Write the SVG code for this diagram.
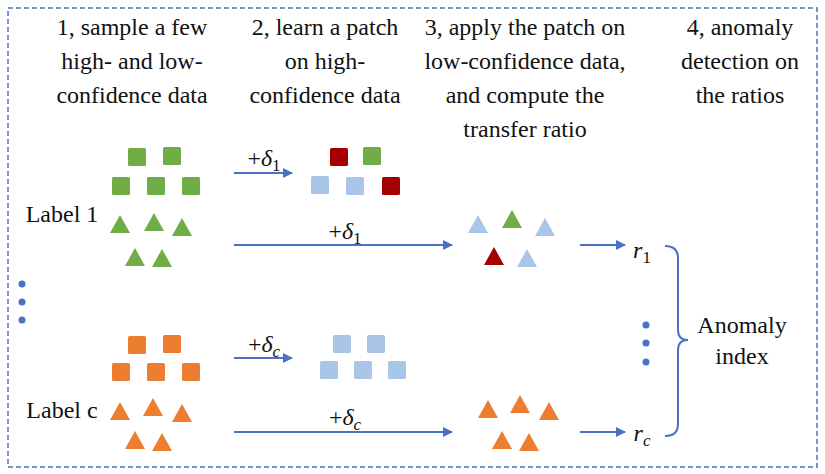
<svg xmlns="http://www.w3.org/2000/svg" width="825" height="474" viewBox="0 0 825 474" font-family="'Liberation Serif', 'Times New Roman', 'DejaVu Serif', serif">
<defs>
<style>
text{font-family:'Liberation Serif','Times New Roman','DejaVu Serif',serif;fill:#111;}
.h{font-size:24px;text-anchor:middle;}
.m{font-size:24px;font-style:italic;text-anchor:middle;}
.c{stroke:#4a72c4;stroke-width:2;fill:none;}
.g{fill:#70ad47}.o{fill:#ed7d31}.r{fill:#a50000}.b{fill:#a9c6e8}
.d{fill:#4a72c4}
</style>
<marker id="a" viewBox="0 0 10 10" refX="9" refY="5" markerWidth="5" markerHeight="5" orient="auto"><path d="M0,0L10,5L0,10z" fill="#4a72c4"/></marker>
<symbol id="sq" viewBox="0 0 18 18" overflow="visible"><rect x="0" y="0" width="18" height="18" rx="1.5"/></symbol>
<symbol id="tr" viewBox="0 0 20 18" overflow="visible"><path d="M10,0L20,18L0,18z"/></symbol>
</defs>
<rect x="8" y="8" width="809" height="459" fill="none" stroke="#4a72c4" stroke-width="1.5" stroke-dasharray="5,3"/>
<g id="headers">
<text class="h" x="132" y="35">1, sample a few</text><text class="h" x="132" y="69">high- and low-</text><text class="h" x="132" y="103">confidence data</text>
<text class="h" x="325" y="35">2, learn a patch</text><text class="h" x="325" y="69">on high-</text><text class="h" x="325" y="103">confidence data</text>
<text class="h" x="525" y="35">3, apply the patch on</text><text class="h" x="525" y="69">low-confidence data,</text><text class="h" x="525" y="103">and compute the</text><text class="h" x="525" y="137">transfer ratio</text>
<text class="h" x="740" y="35">4, anomaly</text><text class="h" x="740" y="69">detection on</text><text class="h" x="740" y="103">the ratios</text>
</g>
<g id="label1"><text x="62" y="222" style="font-size:24px;text-anchor:middle">Label 1</text></g>
<g id="labelc"><text x="62" y="418" style="font-size:24px;text-anchor:middle">Label c</text></g>
<g id="dotsLeft" class="d"><circle cx="22" cy="284" r="3.5"/><circle cx="22" cy="302" r="3.5"/><circle cx="22" cy="320" r="3.5"/></g>
<g id="high1">
<use href="#sq" class="g" x="128" y="148" width="18" height="18"/><use href="#sq" class="g" x="163" y="147" width="18" height="18"/>
<use href="#sq" class="g" x="112" y="177" width="18" height="18"/><use href="#sq" class="g" x="147" y="177" width="18" height="18"/><use href="#sq" class="g" x="182" y="177" width="18" height="18"/>
</g>
<g id="low1">
<use href="#tr" class="g" x="110" y="215" width="20" height="18"/><use href="#tr" class="g" x="144" y="213" width="20" height="18"/><use href="#tr" class="g" x="172" y="218" width="20" height="18"/>
<use href="#tr" class="g" x="125" y="248" width="20" height="18"/><use href="#tr" class="g" x="152" y="249" width="20" height="18"/>
</g>
<g id="patched1">
<use href="#sq" class="r" x="330" y="148" width="18" height="18"/><use href="#sq" class="g" x="363" y="147" width="18" height="18"/>
<use href="#sq" class="b" x="311" y="176" width="18" height="18"/><use href="#sq" class="b" x="346" y="177" width="18" height="18"/><use href="#sq" class="r" x="382" y="177" width="18" height="18"/>
</g>
<g id="transfer1">
<use href="#tr" class="b" x="468" y="215" width="20" height="18"/><use href="#tr" class="g" x="502" y="210" width="20" height="18"/><use href="#tr" class="b" x="535" y="218" width="20" height="18"/>
<use href="#tr" class="r" x="484" y="247" width="20" height="18"/><use href="#tr" class="b" x="517" y="249" width="20" height="18"/>
</g>
<g id="highc">
<use href="#sq" class="o" x="128" y="336" width="18" height="18"/><use href="#sq" class="o" x="163" y="335" width="18" height="18"/>
<use href="#sq" class="o" x="112" y="363" width="18" height="18"/><use href="#sq" class="o" x="147" y="363" width="18" height="18"/><use href="#sq" class="o" x="182" y="363" width="18" height="18"/>
</g>
<g id="lowc">
<use href="#tr" class="o" x="110" y="402" width="20" height="18"/><use href="#tr" class="o" x="143" y="398" width="20" height="18"/><use href="#tr" class="o" x="172" y="404" width="20" height="18"/>
<use href="#tr" class="o" x="125" y="431" width="20" height="18"/><use href="#tr" class="o" x="152" y="433" width="20" height="18"/>
</g>
<g id="patchedc">
<use href="#sq" class="b" x="333" y="335" width="18" height="18"/><use href="#sq" class="b" x="367" y="335" width="18" height="18"/>
<use href="#sq" class="b" x="320" y="361" width="18" height="18"/><use href="#sq" class="b" x="354" y="361" width="18" height="18"/><use href="#sq" class="b" x="388" y="361" width="18" height="18"/>
</g>
<g id="transferc">
<use href="#tr" class="o" x="478" y="400" width="20" height="18"/><use href="#tr" class="o" x="510" y="395" width="20" height="18"/><use href="#tr" class="o" x="539" y="402" width="20" height="18"/>
<use href="#tr" class="o" x="492" y="431" width="20" height="18"/><use href="#tr" class="o" x="519" y="433" width="20" height="18"/>
</g>
<g id="ratios">
<text class="m" x="642" y="258">r<tspan dy="5" font-size="17" font-style="normal">1</tspan></text>
<text class="m" x="642" y="441">r<tspan dy="5" font-size="17">c</tspan></text>
<g class="d"><circle cx="646" cy="325" r="3.5"/><circle cx="646" cy="343" r="3.5"/><circle cx="646" cy="362" r="3.5"/></g>
</g>
<g id="anomaly"><text class="h" x="742" y="333">Anomaly</text><text class="h" x="742" y="364">index</text></g>
<g id="connectors">
<path class="c" d="M234,173H292" marker-end="url(#a)"/>
<path class="c" d="M234,245H452" marker-end="url(#a)"/>
<path class="c" d="M580,245H625" marker-end="url(#a)"/>
<path class="c" d="M234,358H292" marker-end="url(#a)"/>
<path class="c" d="M234,432H452" marker-end="url(#a)"/>
<path class="c" d="M580,432H625" marker-end="url(#a)"/>
<path class="c" d="M665,246Q678,246 678,258V330Q678,340 688,340Q678,340 678,350V424Q678,436 665,436"/>
<text class="m" x="264" y="166" style="font-style:normal">+<tspan font-style="italic">δ</tspan><tspan dy="5" font-size="17">1</tspan></text>
<text class="m" x="345" y="239" style="font-style:normal">+<tspan font-style="italic">δ</tspan><tspan dy="5" font-size="17">1</tspan></text>
<text class="m" x="264" y="352" style="font-style:normal">+<tspan font-style="italic">δ</tspan><tspan dy="5" font-size="17" font-style="italic">c</tspan></text>
<text class="m" x="345" y="425" style="font-style:normal">+<tspan font-style="italic">δ</tspan><tspan dy="5" font-size="17" font-style="italic">c</tspan></text>
</g>
</svg>
